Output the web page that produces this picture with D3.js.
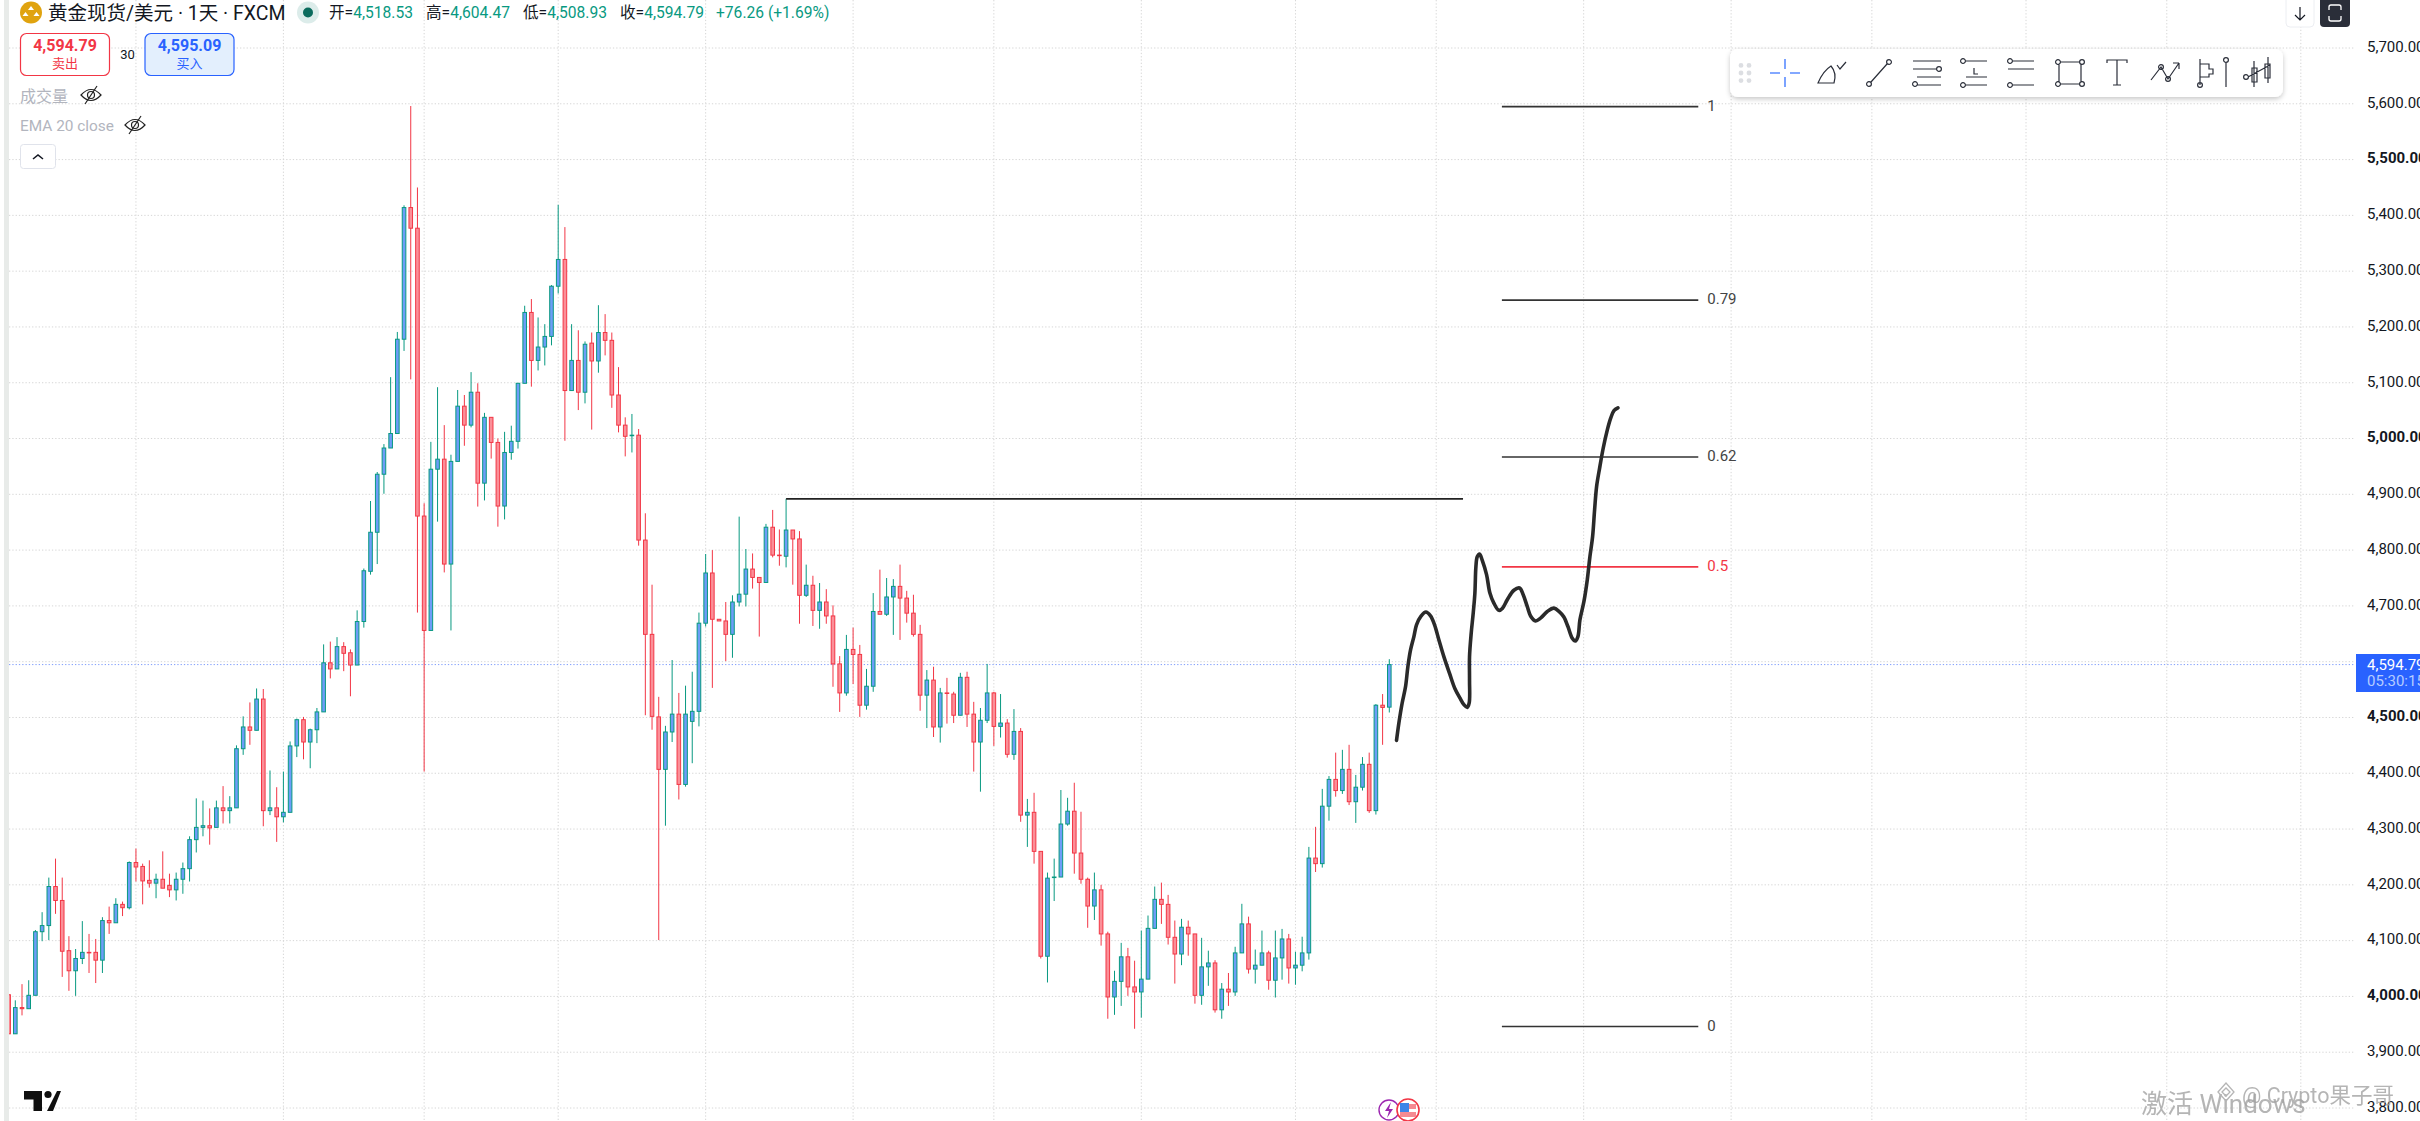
<!DOCTYPE html>
<html>
<head>
<meta charset="utf-8">
<style>
html, body { margin: 0; padding: 0; background: #fff; overflow: hidden; }
svg { display: block; }
text { font-family: Roboto, "Noto Sans CJK SC", sans-serif; }
</style>
</head>
<body>
<div id="chart"></div>
<script src="https://d3js.org/d3.v7.min.js"></script>
<script>

// candles, oldest first (the first one is cut by the left edge)
var opens = [4003,3933,3980,3978,4002,4116,4127,4197,4172,4082,
  4046,4068,4079,4079,4065,4136,4132,4165,4159,4240,
  4233,4208,4203,4210,4199,4191,4210,4229,4281,4303,
  4306,4303,4338,4333,4338,4444,4483,4477,4533,4333,
  4338,4322,4330,4449,4496,4456,4478,4510,4598,4587,
  4627,4616,4594,4672,4762,4832,4936,4983,5009,5178,
  5414,5377,4861,4656,4945,4963,4775,4959,5058,5024,
  5083,4920,5038,4993,4879,4975,4995,5099,5226,5140,
  5164,5183,5273,5321,5086,5140,5083,5171,5139,5190,
  5176,5078,5024,5005,5006,4818,4649,4501,4407,4474,
  4506,4380,4493,4511,4669,4759,4676,4673,4649,4707,
  4721,4766,4751,4742,4841,4791,4789,4836,4820,4719,
  4737,4692,4707,4682,4596,4544,4622,4613,4522,4556,
  4690,4685,4716,4735,4714,4687,4649,4540,4567,4483,
  4544,4542,4504,4572,4506,4456,4495,4544,4484,4490,
  4434,4475,4325,4330,4260,4072,4213,4214,4309,4332,
  4257,4210,4162,4191,4112,3999,4027,4071,4017,4008,
  4031,4122,4174,4165,4106,4076,4124,4112,4002,4053,
  4060,3976,4013,4008,4078,4130,4049,4056,4078,4029,
  4069,4103,4051,4056,4078,4248,4238,4341,4389,4369,
  4407,4349,4375,4416,4333,4522,4518.53];
var highs = [4003,3993,4022,4029,4119,4151,4213,4247,4213,4108,
  4085,4135,4112,4103,4142,4161,4176,4170,4242,4265,
  4238,4244,4220,4260,4220,4222,4240,4287,4355,4351,
  4337,4351,4377,4359,4450,4502,4527,4552,4551,4405,
  4375,4403,4457,4498,4501,4480,4517,4631,4636,4644,
  4635,4622,4692,4767,4888,4940,4990,5110,5191,5418,
  5596,5450,4884,4994,5092,5024,4971,5087,5078,5119,
  5099,5046,5038,5000,5012,5023,5099,5238,5250,5217,
  5205,5275,5419,5379,5205,5194,5174,5190,5239,5223,
  5190,5128,5038,5044,5017,4866,4738,4537,4485,4603,
  4544,4557,4582,4688,4793,4800,4676,4707,4719,4860,
  4802,4794,4751,4847,4872,4837,4892,4836,4834,4774,
  4754,4741,4730,4701,4610,4648,4661,4630,4587,4723,
  4765,4750,4748,4774,4727,4720,4666,4585,4591,4553,
  4571,4546,4580,4582,4528,4517,4596,4546,4542,4497,
  4515,4481,4354,4365,4260,4222,4247,4370,4356,4383,
  4331,4213,4222,4200,4116,4046,4096,4087,4064,4118,
  4145,4197,4204,4182,4136,4139,4136,4112,4105,4082,
  4065,4024,4042,4089,4166,4143,4084,4118,4082,4118,
  4121,4112,4080,4107,4268,4304,4372,4395,4437,4442,
  4451,4397,4429,4437,4524,4542,4604.47];
var lows = [3933,3933,3966,3978,4002,4099,4101,4148,4035,4010,
  4001,4058,4042,4024,4042,4112,4132,4144,4156,4206,
  4165,4195,4176,4194,4178,4172,4184,4206,4258,4287,
  4272,4303,4310,4310,4338,4433,4451,4477,4305,4325,
  4277,4312,4330,4429,4425,4409,4454,4510,4570,4587,
  4583,4538,4594,4661,4756,4775,4901,4983,5009,5157,
  5106,4688,4403,4656,4851,4760,4656,4959,4987,5020,
  4878,4889,4964,4842,4855,4962,4982,5099,5093,5122,
  5131,5167,5260,4996,5086,5051,5063,5016,5118,5149,
  5055,5011,4968,4975,4808,4504,4478,4101,4306,4456,
  4353,4376,4418,4484,4663,4553,4673,4601,4607,4699,
  4699,4731,4645,4742,4787,4772,4769,4738,4668,4716,
  4664,4659,4668,4555,4510,4539,4560,4501,4514,4546,
  4685,4682,4648,4639,4670,4645,4512,4481,4465,4455,
  4489,4490,4504,4483,4403,4367,4490,4449,4464,4428,
  4424,4313,4268,4238,4068,4025,4171,4214,4306,4220,
  4202,4123,4137,4091,3960,3967,3983,4001,3942,3962,
  4031,4122,4130,4093,4023,4056,4073,3987,3985,4019,
  3971,3960,3983,4001,4078,4041,4023,4056,4012,3998,
  4030,4023,4021,4045,4066,4223,4231,4315,4358,4363,
  4343,4311,4369,4329,4326,4451,4508.93];
var closes = [3933,3980,3978,4002,4116,4127,4197,4172,4081,4046,
  4068,4079,4078,4065,4136,4132,4165,4159,4240,4232,
  4207,4203,4210,4194,4191,4210,4229,4281,4303,4306,
  4302,4338,4333,4338,4444,4483,4477,4533,4333,4338,
  4322,4330,4449,4496,4456,4478,4510,4598,4587,4627,
  4615,4594,4672,4763,4832,4936,4983,5009,5178,5414,
  5377,4861,4656,4945,4963,4775,4959,5058,5024,5083,
  4920,5038,4993,4879,4975,4995,5099,5226,5140,5164,
  5183,5273,5321,5086,5140,5083,5169,5139,5190,5176,
  5078,5024,5004,5006,4818,4649,4502,4407,4474,4506,
  4380,4506,4511,4669,4759,4676,4673,4649,4707,4721,
  4766,4751,4742,4841,4791,4790,4836,4820,4719,4737,
  4692,4707,4682,4596,4544,4622,4613,4522,4556,4690,
  4685,4716,4735,4714,4687,4649,4540,4567,4483,4544,
  4543,4504,4572,4506,4456,4495,4544,4484,4490,4434,
  4475,4325,4330,4260,4072,4212,4214,4309,4332,4257,
  4210,4162,4191,4112,3999,4027,4071,4017,4008,4031,
  4122,4174,4165,4106,4076,4124,4112,4002,4053,4060,
  3976,4013,4008,4078,4130,4049,4056,4078,4029,4069,
  4103,4051,4056,4078,4248,4238,4341,4389,4369,4407,
  4349,4375,4416,4333,4522,4518,4594.79];

var priceTicks = [3800,3900,4000,4100,4200,4300,4400,4500,4600,4700,
  4800,4900,5000,5100,5200,5300,5400,5500,5600,5700];
var boldTicks = [4000,4500,5000,5500];
// bar index of each month line in the time grid
var timeTicks = [19,41,62,82,104,126,147,169,192,213,235,257,278,301,322,342];

var lastPrice = 4594.79;
var fibRatios = ["1","0.79","0.62","0.5","0"];
var fibPrices = [5595,5248,4967,4770,3946];
var fibFrom = 222.8, fibTo = 252.1;
var lineFrom = 116, lineTo = 217, linePrice = 4892;

// the hand drawn path on the right
var sketchIdx = [207.08,207.43,207.92,208.42,208.77,209.17,209.67,210.06,210.76,211.46,
  212.15,212.75,213.4,214.14,214.99,215.78,216.53,217.13,217.63,217.92,
  217.97,217.97,218.22,218.52,218.77,218.92,219.12,219.47,219.86,220.51,
  221.01,221.6,222.35,222.9,223.6,224.59,225.44,225.98,226.58,227.08,
  227.82,228.57,229.57,230.56,231.31,232.05,232.65,233.3,233.74,234.14,
  234.44,235.04,235.54,235.93,236.33,236.63,236.93,237.38,237.92,238.52,
  239.02,239.52,240.11];
var sketchPrice = [4459,4490,4526,4555,4591,4621,4645,4666,4682,4689,
  4682,4666,4639,4609,4579,4552,4535,4523,4518,4526,
  4567,4609,4651,4687,4723,4770,4788,4793,4782,4756,
  4723,4705,4692,4696,4711,4728,4732,4720,4699,4682,
  4673,4678,4690,4696,4690,4680,4663,4642,4637,4645,
  4675,4708,4747,4788,4824,4872,4914,4947,4983,5015,
  5036,5050,5055];

var W = 2420, H = 1121, plotLeft = 9, plotRight = 2354;

var x = d3.scaleLinear().domain([0, 206]).range([8.6, 1389.3]);
var y = d3.scaleLinear().domain([3800, 5700]).range([1108, 48]);

var svg = d3.select("#chart").append("svg")
    .attr("width", W)
    .attr("height", H);

svg.append("rect").attr("width", W).attr("height", H).attr("fill", "#fff");
svg.append("rect").attr("x", 4).attr("width", 5).attr("height", H).attr("fill", "#e8ebe9");

svg.append("defs").append("clipPath").attr("id", "plot")
  .append("rect").attr("x", plotLeft).attr("y", 0).attr("width", plotRight - plotLeft).attr("height", H);

var plot = svg.append("g").attr("clip-path", "url(#plot)");

// grid
plot.selectAll("line.h").data(priceTicks).enter().append("line")
    .attr("class", "h")
    .attr("x1", plotLeft).attr("x2", plotRight)
    .attr("y1", function(d) { return y(d); }).attr("y2", function(d) { return y(d); })
    .attr("stroke", "#d6d6d6").attr("stroke-dasharray", "1.3 2");
plot.selectAll("line.v").data(timeTicks).enter().append("line")
    .attr("class", "v")
    .attr("x1", function(d) { return x(d); }).attr("x2", function(d) { return x(d); })
    .attr("y1", 0).attr("y2", H)
    .attr("stroke", "#d6d6d6").attr("stroke-dasharray", "1.3 2");

// last price line
plot.append("line")
    .attr("x1", plotLeft).attr("x2", plotRight)
    .attr("y1", y(lastPrice)).attr("y2", y(lastPrice))
    .attr("stroke", "#7f9dfb").attr("stroke-dasharray", "1.3 2");

// candles
var candles = plot.selectAll("g.candle").data(opens).enter().append("g")
    .attr("class", "candle");

candles.append("line")
    .attr("x1", function(d, i) { return x(i); })
    .attr("x2", function(d, i) { return x(i); })
    .attr("y1", function(d, i) { return y(highs[i]); })
    .attr("y2", function(d, i) { return y(lows[i]); })
    .attr("stroke", function(d, i) { return closes[i] >= d ? "#089981" : "#f23645"; })
    .attr("stroke-width", 1);

candles.append("rect")
    .attr("x", function(d, i) { return x(i) - 1.8; })
    .attr("width", 3.6)
    .attr("y", function(d, i) { return y(Math.max(d, closes[i])); })
    .attr("height", function(d, i) { return Math.abs(y(d) - y(closes[i])); })
    .attr("fill", function(d, i) { return closes[i] >= d ? "#6d9df7" : "#fb8f98"; })
    .attr("stroke", function(d, i) { return closes[i] >= d ? "#089981" : "#f23645"; })
    .attr("stroke-width", 1);

// fib levels
fibRatios.forEach(function(r, i) {
  var col = r === "0.5" ? "#f23645" : "#333";
  svg.append("line")
      .attr("x1", x(fibFrom)).attr("x2", x(fibTo))
      .attr("y1", y(fibPrices[i])).attr("y2", y(fibPrices[i]))
      .attr("stroke", col).attr("stroke-width", 1.6);
  svg.append("text")
      .attr("x", x(fibTo) + 9).attr("y", y(fibPrices[i]) + 4)
      .attr("fill", col === "#333" ? "#444" : col)
      .attr("font-size", 15)
      .text(r);
});

svg.append("line")
    .attr("x1", x(lineFrom)).attr("x2", x(lineTo))
    .attr("y1", y(linePrice)).attr("y2", y(linePrice))
    .attr("stroke", "#222").attr("stroke-width", 1.8);

var sketch = d3.line()
    .x(function(d) { return x(d); })
    .y(function(d, i) { return y(sketchPrice[i]); })
    .curve(d3.curveCatmullRom);
svg.append("path")
    .attr("d", sketch(sketchIdx))
    .attr("fill", "none")
    .attr("stroke", "#2a2a2a")
    .attr("stroke-width", 3.6)
    .attr("stroke-linecap", "round")
    .attr("stroke-linejoin", "round");

// price axis
var axis = svg.append("g")
    .attr("transform", "translate(2367,-1.5)")
    .call(d3.axisRight(y).tickValues(priceTicks).tickSize(0).tickPadding(0).tickFormat(d3.format(",.2f")));
axis.select(".domain").remove();
axis.selectAll("text")
    .attr("fill", "#131722")
    .attr("font-size", 15)
    .style("font-family", "Roboto, sans-serif")
    .attr("font-weight", function(d) { return boldTicks.indexOf(d) >= 0 ? 700 : 400; });

// last price tag
svg.append("rect").attr("x", 2356).attr("y", 654).attr("width", 64).attr("height", 38).attr("fill", "#2962ff");
svg.append("text").attr("x", 2367).attr("y", 670).attr("fill", "#fff").attr("font-size", 15).text("4,594.79");
svg.append("text").attr("x", 2367).attr("y", 686).attr("fill", "#b5ccff").attr("font-size", 15).text("05:30:15");

// header
var hdr = svg.append("g");
hdr.append("circle").attr("cx", 31).attr("cy", 12.5).attr("r", 11).attr("fill", "#e0a30f");
hdr.append("path").attr("d", "M31 6l3 4h-6zM25.5 12l3 4h-6zM36.5 12l3 4h-6z").attr("fill", "#fff");
hdr.append("text").attr("x", 48).attr("y", 19.5).attr("font-size", 19.5).attr("fill", "#131722")
    .text("黄金现货/美元 · 1天 · FXCM");
hdr.append("circle").attr("cx", 308).attr("cy", 12.5).attr("r", 11).attr("fill", "#dcecea");
hdr.append("circle").attr("cx", 308).attr("cy", 12.5).attr("r", 5).attr("fill", "#0b6b5d");

var ohlcLabels = ["开=", "高=", "低=", "收="];
var ohlcValues = ["4,518.53", "4,604.47", "4,508.93", "4,594.79"];
var ohlcX = [329, 426, 523, 620];
ohlcLabels.forEach(function(l, i) {
  var t = hdr.append("text").attr("x", ohlcX[i]).attr("y", 18).attr("font-size", 15.6);
  t.append("tspan").attr("fill", "#131722").text(l);
  t.append("tspan").attr("fill", "#089981").text(ohlcValues[i]);
});
hdr.append("text").attr("x", 716).attr("y", 18).attr("font-size", 15.6).attr("fill", "#089981").text("+76.26 (+1.69%)");

// sell and buy buttons
function tradeButton(bx, fill, col, price, label) {
  svg.append("rect").attr("x", bx).attr("y", 33.5).attr("width", 89).attr("height", 42).attr("rx", 6)
      .attr("fill", fill).attr("stroke", col).attr("stroke-width", 1.2);
  svg.append("text").attr("x", bx + 44.5).attr("y", 51).attr("text-anchor", "middle")
      .attr("font-size", 16).attr("font-weight", 700).attr("fill", col).text(price);
  svg.append("text").attr("x", bx + 44.5).attr("y", 68).attr("text-anchor", "middle")
      .attr("font-size", 13).attr("fill", col).text(label);
}
tradeButton(20.5, "#fff", "#f23645", "4,594.79", "卖出");
tradeButton(145, "#e3effd", "#2962ff", "4,595.09", "买入");
svg.append("text").attr("x", 127.5).attr("y", 59).attr("text-anchor", "middle").attr("font-size", 13).attr("fill", "#131722").text("30");

// hidden studies
function eyeOff(cx, cy) {
  var g = svg.append("g").attr("transform", "translate(" + cx + "," + cy + ")")
      .attr("fill", "none").attr("stroke", "#222").attr("stroke-width", 1.2);
  g.append("path").attr("d", "M-10 0Q0 -11 10 0Q0 11 -10 0Z");
  g.append("circle").attr("r", 3.5);
  g.append("path").attr("d", "M6 -9L-6 9");
}
svg.append("text").attr("x", 20).attr("y", 102).attr("font-size", 16).attr("fill", "#b2b5be").text("成交量");
eyeOff(91, 95);
svg.append("text").attr("x", 20).attr("y", 131).attr("font-size", 15.4).attr("fill", "#b2b5be").text("EMA 20 close");
eyeOff(135, 125);
svg.append("rect").attr("x", 20.5).attr("y", 144.5).attr("width", 35).attr("height", 24).attr("rx", 3)
    .attr("fill", "#fff").attr("stroke", "#e0e3eb");
svg.append("path").attr("d", "M33 159l5 -4l5 4").attr("fill", "none").attr("stroke", "#131722").attr("stroke-width", 1.6);

// toolbar
svg.append("defs").append("filter").attr("id", "shadow")
    .attr("x", "-5%").attr("y", "-20%").attr("width", "110%").attr("height", "150%")
  .append("feDropShadow").attr("dx", 0).attr("dy", 2).attr("stdDeviation", 2.5).attr("flood-opacity", 0.22);
svg.append("rect").attr("x", 1730).attr("y", 49).attr("width", 553).attr("height", 48).attr("rx", 8)
    .attr("fill", "#fff").attr("filter", "url(#shadow)");

function dot(a, b) { return "M" + (a - 2.4) + " " + b + "a2.4 2.4 0 1 0 4.8 0a2.4 2.4 0 1 0 -4.8 0"; }
var toolX = [1785,1831,1879,1927,1975,2022,2070,2117,2165,2211,2260];
var toolPaths = [
  "M0 -14V-4M0 4V14M-15 0H-5M5 0H15",
  "M-13 10H3Q6 0 0 -7Q-8 -2 -13 10ZM6 -8L9 -4L15 -11",
  dot(-10, 11) + "M-8 9L8 -9" + dot(10, -11),
  "M-14 -12H14M-14 -4H10M-10 12H14M-10 4H14" + dot(12, -4) + dot(-12, 11),
  "M-9 -12H12M-9 12H12M-9 4H12M-1 -5V1H3" + dot(-12, -12) + dot(-12, 12),
  "M-9 -12H12M-9 12H12M-14 -4H12" + dot(-12, -12) + dot(-12, 12),
  "M-10 -11H10M-10 11H10M-11 -9V9M11 -9V9" + dot(-12, -11) + dot(12, -11) + dot(-12, 11) + dot(12, 11),
  "M-10 -10V-13H10V-10M0 -13V12M-4 12H4",
  "M-14 7L-4 -6L3 6L14 -10M14 -10H8M14 -10V-4" + dot(-4, -6) + dot(3, 6),
  "M-11 -14V12M-11 -9H-2V-4H2V1H-2V4H-11M15 -11V14" + dot(-11, 12) + dot(15, -13),
  "M-12 4L10 -8M-8 -5H-3V9H-8ZM5 -9H10V5H5ZM-6 -12V14M8 -16V10" + dot(-14, 4)
];
var tools = svg.append("g");
tools.append("g").selectAll("path").data([-4, 0, 4]).enter().append("path")
    .attr("d", function(d) { return dot(1741, 73 + d * 1.9) + dot(1749, 73 + d * 1.9); })
    .attr("fill", "#b9bdc6").attr("opacity", 0.5);
toolPaths.forEach(function(p, i) {
  tools.append("path")
      .attr("transform", "translate(" + toolX[i] + ",73)")
      .attr("d", p)
      .attr("fill", "none")
      .attr("stroke", i === 0 ? "#5b8cff" : "#2a2e39")
      .attr("stroke-width", i === 0 ? 1.6 : 1.2);
});

// top right buttons
svg.append("rect").attr("x", 2286).attr("y", -4).attr("width", 28).attr("height", 31).attr("rx", 4)
    .attr("fill", "#fff").attr("stroke", "#eceef2");
svg.append("path").attr("d", "M2300 7V20M2295 15L2300 20L2305 15").attr("fill", "none").attr("stroke", "#131722").attr("stroke-width", 1.2);
svg.append("rect").attr("x", 2320).attr("y", -4).attr("width", 30).attr("height", 31).attr("rx", 4).attr("fill", "#2a2e39");
svg.append("path").attr("d", "M2329 10V7Q2329 5 2331 5H2339Q2341 5 2341 7V10M2329 16V19Q2329 21 2331 21H2339Q2341 21 2341 19V16")
    .attr("fill", "none").attr("stroke", "#fff").attr("stroke-width", 1.3);

// logo and bottom event badges
svg.append("path").attr("d", "M24 1091H42V1111H33.5V1099.5H24ZM47 1111L57 1091H61L53 1111Z").attr("fill", "#0f0f0f");
svg.append("circle").attr("cx", 48).attr("cy", 1094.5).attr("r", 3.6).attr("fill", "#0f0f0f");

svg.append("circle").attr("cx", 1389).attr("cy", 1110).attr("r", 10).attr("fill", "#fff").attr("stroke", "#9c27b0").attr("stroke-width", 1.4);
svg.append("path").attr("d", "M1391 1102L1385 1111H1389L1387 1118L1393 1109H1389Z").attr("fill", "#9c27b0");
svg.append("circle").attr("cx", 1408).attr("cy", 1110).attr("r", 11).attr("fill", "#fff").attr("stroke", "#f23645").attr("stroke-width", 1.6);
svg.append("rect").attr("x", 1400).attr("y", 1104).attr("width", 16).attr("height", 5).attr("fill", "#f58a92");
svg.append("rect").attr("x", 1400).attr("y", 1112).attr("width", 16).attr("height", 5).attr("fill", "#f58a92");
svg.append("rect").attr("x", 1400).attr("y", 1103).attr("width", 9).attr("height", 9).attr("fill", "#3d85e8");

// watermarks over the picture
svg.append("text").attr("x", 2141).attr("y", 1113).attr("font-size", 26).attr("fill", "#a3a3a3").attr("opacity", 0.8)
    .text("激活 Windows");
svg.append("path").attr("d", "M2218 1092l8 -9l8 9l-8 9zM2222 1092l4 -4l4 4l-4 4z")
    .attr("fill", "none").attr("stroke", "#b5b5b5").attr("stroke-width", 1.3);
svg.append("text").attr("x", 2242).attr("y", 1103).attr("font-size", 21.5).attr("fill", "#a3a3a3").attr("opacity", 0.8)
    .text("@ Crypto果子哥");

</script>
</body>
</html>
